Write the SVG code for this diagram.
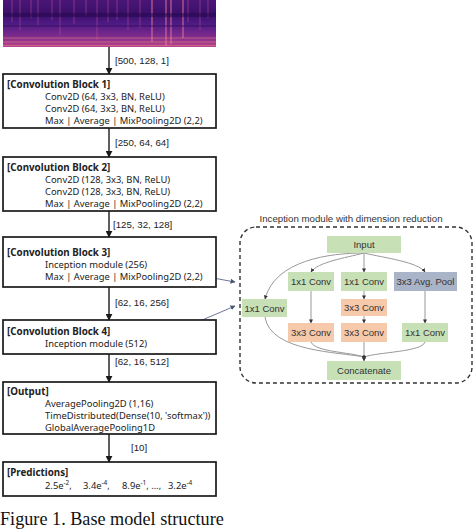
<svg xmlns="http://www.w3.org/2000/svg" width="474" height="530" viewBox="0 0 474 530">
<style>
.box{fill:#fff;stroke:#1a1a1a;stroke-width:1.7}
.hd{font-family:"Noto Sans","Open Sans",sans-serif;font-weight:bold;font-size:9.8px;fill:#222}
.tx{font-family:"Noto Sans","Open Sans",sans-serif;font-size:9.4px;fill:#222}
.sup{font-size:6.5px}
.lb{font-family:"Liberation Sans",Arial,sans-serif;font-size:9.7px;fill:#222}
.ar{stroke:#1a1a1a;stroke-width:1.4;fill:none}
.im{font-family:"Liberation Sans",Arial,sans-serif;font-size:9.5px;fill:#333;text-anchor:middle}
.ti{font-family:"Liberation Sans",Arial,sans-serif;font-size:9.7px;fill:#333;text-anchor:middle}
.g{fill:#c7e0b6}
.o{fill:#f7c9ab}
.b{fill:#a9b4c8}
.ic{stroke:#999;stroke-width:1;fill:none}
.cap{font-family:"Liberation Serif","Times New Roman",serif;font-size:18.2px;fill:#111}
</style>
<defs>
<marker id="ah" viewBox="0 0 10 10" refX="9" refY="5" markerWidth="5" markerHeight="5" orient="auto"><path d="M0,0L10,5L0,10z" fill="#1a1a1a"/></marker>
<marker id="ahs" viewBox="0 0 10 10" refX="9" refY="5" markerWidth="4" markerHeight="4" orient="auto"><path d="M0,0L10,5L0,10z" fill="#333"/></marker>
<marker id="ahb" viewBox="0 0 10 10" refX="9" refY="5" markerWidth="5" markerHeight="5" orient="auto"><path d="M0,0L10,5L0,10z" fill="#4a5570"/></marker>
<linearGradient id="spec" x1="0" y1="0" x2="0" y2="1">
<stop offset="0" stop-color="#4a1678"/>
<stop offset="0.3" stop-color="#3a1068"/>
<stop offset="0.5" stop-color="#4e1a84"/>
<stop offset="0.75" stop-color="#7a2a8c"/>
<stop offset="1" stop-color="#b8448a"/>
</linearGradient>
</defs>

<g id="spectrogram">
<rect x="3" y="0" width="213" height="47" fill="url(#spec)"/>
<g stroke="#d65a9a" stroke-opacity="0.45" stroke-width="1">
<line x1="12" y1="0" x2="12" y2="22"/>
<line x1="20" y1="0" x2="20" y2="30"/>
<line x1="31" y1="0" x2="31" y2="18"/>
<line x1="38" y1="0" x2="38" y2="25"/>
<line x1="52" y1="0" x2="52" y2="20"/>
<line x1="60" y1="0" x2="60" y2="35"/>
<line x1="74" y1="0" x2="74" y2="24"/>
<line x1="86" y1="0" x2="86" y2="16"/>
<line x1="97" y1="0" x2="97" y2="40"/>
<line x1="108" y1="0" x2="108" y2="22"/>
<line x1="117" y1="0" x2="117" y2="20"/>
<line x1="128" y1="0" x2="128" y2="30"/>
<line x1="140" y1="0" x2="140" y2="28"/>
<line x1="188" y1="0" x2="188" y2="22"/>
<line x1="200" y1="0" x2="200" y2="30"/>
<line x1="208" y1="0" x2="208" y2="18"/>
</g>
<g stroke="#f07a9a" stroke-opacity="0.75" stroke-width="1.2">
<line x1="152" y1="0" x2="152" y2="42"/>
<line x1="166" y1="0" x2="166" y2="46"/>
<line x1="171" y1="0" x2="171" y2="44"/>
<line x1="183" y1="0" x2="183" y2="38"/>
</g>
<g stroke="#f09080" stroke-opacity="0.45" stroke-width="1">
<line x1="3" y1="38" x2="216" y2="38"/>
<line x1="3" y1="42" x2="216" y2="42"/>
<line x1="3" y1="45.5" x2="216" y2="45.5"/>
</g>
<rect x="3" y="13" width="213" height="4" fill="#250a50" opacity="0.55"/>
<rect x="3" y="25" width="213" height="2" fill="#2a0c58" opacity="0.4"/>
</g>

<g id="connectors">
<line class="ar" x1="109" y1="47" x2="109" y2="74" marker-end="url(#ah)"/>
<line class="ar" x1="109" y1="128" x2="109" y2="157" marker-end="url(#ah)"/>
<line class="ar" x1="109" y1="211" x2="109" y2="237" marker-end="url(#ah)"/>
<line class="ar" x1="109" y1="287" x2="109" y2="320" marker-end="url(#ah)"/>
<line class="ar" x1="109" y1="354" x2="109" y2="382" marker-end="url(#ah)"/>
<line class="ar" x1="109" y1="434" x2="109" y2="462" marker-end="url(#ah)"/>
<line x1="153" y1="267" x2="235" y2="282" stroke="#6b7898" stroke-width="1" marker-end="url(#ahb)"/>
<line x1="153" y1="341" x2="235" y2="306" stroke="#6b7898" stroke-width="1" marker-end="url(#ahb)"/>
<text class="lb" x="115" y="64">[500, 128, 1]</text>
<text class="lb" x="115" y="146">[250, 64, 64]</text>
<text class="lb" x="113" y="228">[125, 32, 128]</text>
<text class="lb" x="115" y="306">[62, 16, 256]</text>
<text class="lb" x="115" y="365">[62, 16, 512]</text>
<text class="lb" x="131" y="451">[10]</text>
</g>

<g id="block1">
<rect class="box" x="3" y="74" width="213" height="54"/>
<text class="hd" x="7" y="88">[Convolution Block 1]</text>
<text class="tx" x="45" y="100">Conv2D (64, 3x3, BN, ReLU)</text>
<text class="tx" x="45" y="112">Conv2D (64, 3x3, BN, ReLU)</text>
<text class="tx" x="45" y="124">Max | Average | MixPooling2D (2,2)</text>
</g>
<g id="block2">
<rect class="box" x="3" y="157" width="213" height="54"/>
<text class="hd" x="7" y="171">[Convolution Block 2]</text>
<text class="tx" x="45" y="183">Conv2D (128, 3x3, BN, ReLU)</text>
<text class="tx" x="45" y="195">Conv2D (128, 3x3, BN, ReLU)</text>
<text class="tx" x="45" y="207">Max | Average | MixPooling2D (2,2)</text>
</g>
<g id="block3">
<rect class="box" x="3" y="237" width="213" height="50"/>
<text class="hd" x="7" y="256">[Convolution Block 3]</text>
<text class="tx" x="45" y="268">Inception module (256)</text>
<text class="tx" x="45" y="280">Max | Average | MixPooling2D (2,2)</text>
</g>
<g id="block4">
<rect class="box" x="3" y="320" width="213" height="34"/>
<text class="hd" x="7" y="335">[Convolution Block 4]</text>
<text class="tx" x="45" y="347">Inception module (512)</text>
</g>
<g id="output">
<rect class="box" x="3" y="382" width="213" height="52"/>
<text class="hd" x="7" y="395">[Output]</text>
<text class="tx" x="45" y="407">AveragePooling2D (1,16)</text>
<text class="tx" x="45" y="419">TimeDistributed(Dense(10, 'softmax'))</text>
<text class="tx" x="45" y="431">GlobalAveragePooling1D</text>
</g>
<g id="predictions">
<rect class="box" x="3" y="462" width="213" height="34"/>
<text class="hd" x="7" y="476">[Predictions]</text>
<text class="tx" x="45" y="489">2.5e<tspan class="sup" baseline-shift="super">-2</tspan>,</text>
<text class="tx" x="83" y="489">3.4e<tspan class="sup" baseline-shift="super">-4</tspan>,</text>
<text class="tx" x="122" y="489">8.9e<tspan class="sup" baseline-shift="super">-1</tspan>, …,</text>
<text class="tx" x="168" y="489">3.2e<tspan class="sup" baseline-shift="super">-4</tspan></text>
</g>

<g id="inception">
<text class="ti" x="351" y="222">Inception module with dimension reduction</text>
<rect x="240" y="227" width="232" height="156" rx="16" fill="none" stroke="#333" stroke-width="1.4" stroke-dasharray="4,3"/>
<g id="inc-connectors">
<path class="ic" d="M364,253 C330,253 275,260 265,299" marker-end="url(#ahs)"/>
<path class="ic" d="M364,253 C345,258 318,262 311,272" marker-end="url(#ahs)"/>
<path class="ic" d="M364,253 L364,272" marker-end="url(#ahs)"/>
<path class="ic" d="M364,253 C385,258 418,262 425,272" marker-end="url(#ahs)"/>
<path class="ic" d="M311,291 L311,323" marker-end="url(#ahs)"/>
<path class="ic" d="M364,291 L364,299" marker-end="url(#ahs)"/>
<path class="ic" d="M364,316 L364,323" marker-end="url(#ahs)"/>
<path class="ic" d="M425,291 L425,323" marker-end="url(#ahs)"/>
<path class="ic" d="M265,317 C270,352 340,352 364,357"/>
<path class="ic" d="M311,342 C315,352 350,352 364,357"/>
<path class="ic" d="M364,342 L364,357"/>
<path class="ic" d="M425,342 C422,352 378,352 364,357"/>
<circle cx="364" cy="357" r="1.8" fill="#222"/>
<path class="ic" d="M364,357 L364,361" marker-end="url(#ahs)"/>
</g>
<g id="n-input"><rect class="g" x="327" y="236" width="74" height="17"/><text class="im" x="364" y="248">Input</text></g>
<g id="n-1x1a"><rect class="g" x="288" y="272" width="46" height="19"/><text class="im" x="311" y="285">1x1 Conv</text></g>
<g id="n-1x1b"><rect class="g" x="341" y="272" width="46" height="19"/><text class="im" x="364" y="285">1x1 Conv</text></g>
<g id="n-pool"><rect class="b" x="394" y="272" width="63" height="19"/><text class="im" x="425.5" y="285">3x3 Avg. Pool</text></g>
<g id="n-1x1left"><rect class="g" x="242" y="299" width="45" height="18"/><text class="im" x="264.5" y="312">1x1 Conv</text></g>
<g id="n-3x3a"><rect class="o" x="341" y="299" width="46" height="17"/><text class="im" x="364" y="311">3x3 Conv</text></g>
<g id="n-3x3b"><rect class="o" x="288" y="323" width="46" height="19"/><text class="im" x="311" y="336">3x3 Conv</text></g>
<g id="n-3x3c"><rect class="o" x="341" y="323" width="46" height="19"/><text class="im" x="364" y="336">3x3 Conv</text></g>
<g id="n-1x1c"><rect class="g" x="402" y="323" width="46" height="19"/><text class="im" x="425" y="336">1x1 Conv</text></g>
<g id="n-concat"><rect class="g" x="327" y="361" width="74" height="19"/><text class="im" x="364" y="374">Concatenate</text></g>
</g>

<text class="cap" x="0" y="525">Figure 1. Base model structure</text>
</svg>
